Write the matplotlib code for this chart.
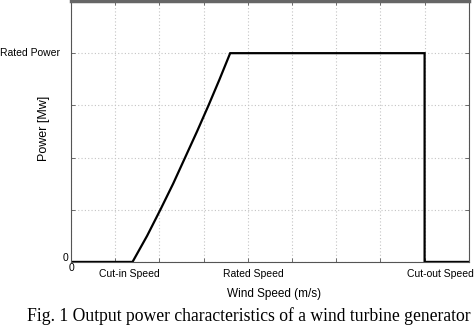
import matplotlib.pyplot as plt

# Power curve (x in grid units, y in grid units; rated = 4)
wind = [0, 1.39, 1.72, 2.02, 2.31, 2.58, 2.85, 3.11, 3.36, 3.60, 8.0, 8.0, 9.0]
power = [0, 0, 0.5, 1, 1.5, 2, 2.5, 3, 3.5, 4, 4, 0, 0]

speed_labels = ["Cut-in Speed", "Rated Speed", "Cut-out Speed"]
speed_label_pos = [1.33, 4.12, 8.35]
power_ticks = [0, 1, 2, 3, 4, 5]

plt.rcParams["font.family"] = ["Liberation Sans", "DejaVu Sans"]

fig = plt.figure(figsize=(4.74, 3.27), dpi=100)
ax = fig.add_axes([0.150, 0.199, 0.839, 0.798])

ax.plot(wind, power, color="black", linewidth=1.6, solid_joinstyle="miter")

ax.set_xlim(0, 9)
ax.set_ylim(0, 5)
ax.set_xticks(range(10))
ax.set_xticklabels([""] * 10)
ax.set_yticks(power_ticks)
ax.set_yticklabels([""] * len(power_ticks))
ax.tick_params(direction="in", length=3, width=0.6, color="#555555",
               top=True, right=True)
ax.grid(True, linestyle=(0, (1, 2)), color="#c4c4c4", linewidth=0.8)

for s in ["left", "right", "bottom"]:
    ax.spines[s].set_color("#555555")
    ax.spines[s].set_linewidth(0.8)
ax.spines["top"].set_color("#666666")
ax.spines["top"].set_linewidth(2.5)

# y tick texts
ax.text(-0.008, 0.015, "0", transform=ax.transAxes, ha="right",
        va="center", fontsize=7.5)
ax.text(-0.027, 4, "Rated Power", transform=ax.get_yaxis_transform(),
        ha="right", va="center", fontsize=7.5)

# x tick texts
ax.text(0, -0.006, "0", transform=ax.get_xaxis_transform(), ha="center",
        va="top", fontsize=7.5)
for lab, xp in zip(speed_labels, speed_label_pos):
    ax.text(xp, -0.027, lab, transform=ax.get_xaxis_transform(), ha="center",
            va="top", fontsize=7.5, clip_on=False)

ax.set_xlabel("Wind Speed (m/s)", fontsize=8.5)
ax.xaxis.set_label_coords(0.51, -0.10)
ax.set_ylabel("Power [Mw]", fontsize=9)
ax.yaxis.set_label_coords(-0.052, 0.513)

fig.text(0.525, 0.033, "Fig. 1 Output power characteristics of a wind turbine generator",
         ha="center", va="center", fontsize=12.7, family="Liberation Serif")

fig.savefig("out.png", dpi=100)
